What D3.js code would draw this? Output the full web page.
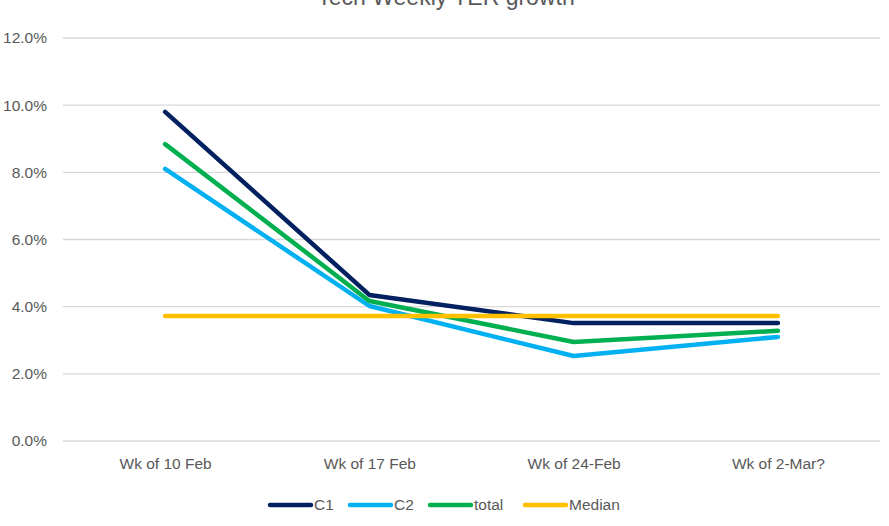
<!DOCTYPE html>
<html>
<head>
<meta charset="utf-8">
<script src="https://cdn.jsdelivr.net/npm/d3@7"></script>
<style>
  body { margin: 0; background: #fff; }
  text { font-family: "Liberation Sans", Arial, sans-serif; fill: #595959; }
</style>
</head>
<body>
<div id="chart"></div>
<script>
// chart data
var weeks = ["Wk of 10 Feb", "Wk of 17 Feb", "Wk of 24-Feb", "Wk of 2-Mar?"];
var c1 = [0.098, 0.0435, 0.0351, 0.0351];
var c2 = [0.081, 0.0402, 0.0253, 0.031];
var total = [0.0884, 0.0417, 0.0295, 0.0328];
var median = [0.0372, 0.0372, 0.0372, 0.0372];
var yTicks = [0, 0.02, 0.04, 0.06, 0.08, 0.10, 0.12];

var series = [
  { name: "C1", values: c1, color: "#002060" },
  { name: "C2", values: c2, color: "#00B0F0" },
  { name: "total", values: total, color: "#00B050" },
  { name: "Median", values: median, color: "#FFC000" }
];

var width = 889, height = 526;
var plot = { left: 63, right: 880, top: 38, bottom: 441 };

var svg = d3.select("#chart").append("svg")
    .attr("width", width)
    .attr("height", height);

var x = d3.scalePoint()
    .domain(weeks)
    .range([plot.left, plot.right])
    .padding(0.5);

var y = d3.scaleLinear()
    .domain([0, 0.12])
    .range([plot.bottom, plot.top]);

// title (cut off at the top in the original)
svg.append("text")
    .attr("x", 446)
    .attr("y", 5)
    .attr("text-anchor", "middle")
    .style("font-size", "23px")
    .text("Tech Weekly TER growth");

// gridlines
svg.append("g").selectAll("line")
  .data(yTicks)
  .enter().append("line")
    .attr("x1", plot.left)
    .attr("x2", plot.right)
    .attr("y1", d => y(d))
    .attr("y2", d => y(d))
    .attr("stroke", "#d9d9d9")
    .attr("stroke-width", 1.3);

// y axis labels
var yAxis = d3.axisLeft(y).tickValues(yTicks).tickFormat(d3.format(".1%")).tickSize(0).tickPadding(16);
var gy = svg.append("g").attr("transform", "translate(" + plot.left + ",0)").call(yAxis);
gy.select(".domain").remove();
gy.selectAll("text").style("font-size", "15.5px").style("font-family", null).attr("fill", null);

// x axis labels
var xAxis = d3.axisBottom(x).tickSize(0).tickPadding(17);
var gx = svg.append("g").attr("transform", "translate(0," + plot.bottom + ")").call(xAxis);
gx.select(".domain").remove();
gx.selectAll("text").style("font-size", "15.5px").style("font-family", null).attr("fill", null);

// lines
var line = d3.line()
    .x((d, i) => x(weeks[i]))
    .y(d => y(d));

svg.append("g").selectAll("path")
  .data(series)
  .enter().append("path")
    .attr("d", d => line(d.values))
    .attr("fill", "none")
    .attr("stroke", d => d.color)
    .attr("stroke-width", 4.5)
    .attr("stroke-linejoin", "round")
    .attr("stroke-linecap", "round");

// legend
var legendX = [270, 350, 430, 525];
var lg = svg.append("g").selectAll("g")
  .data(series)
  .enter().append("g")
    .attr("transform", (d, i) => "translate(" + legendX[i] + ",505)");
lg.append("line")
    .attr("x1", 0).attr("x2", 41)
    .attr("stroke", d => d.color)
    .attr("stroke-width", 4.5)
    .attr("stroke-linecap", "round");
lg.append("text")
    .attr("x", 44)
    .attr("dy", "0.35em")
    .style("font-size", "15.5px")
    .text(d => d.name);
</script>
</body>
</html>
